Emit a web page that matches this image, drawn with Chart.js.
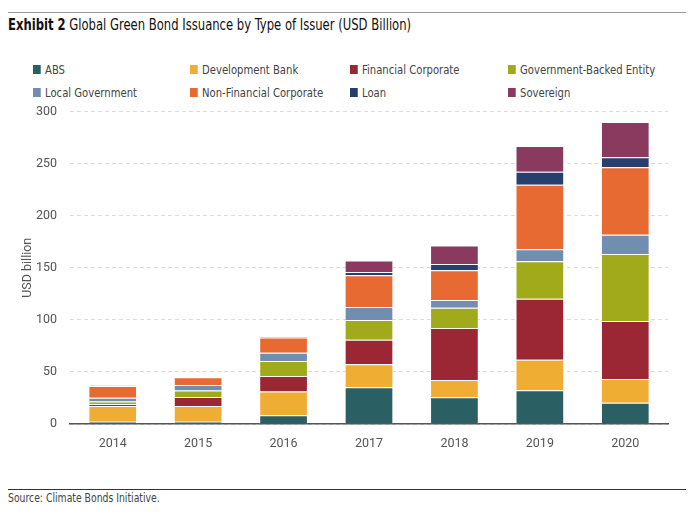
<!DOCTYPE html>
<html lang="en">
<head>
<meta charset="utf-8">
<title>Global Green Bond Issuance by Type of Issuer</title>
<script src="https://cdn.jsdelivr.net/npm/chart.js@4.4.1/dist/chart.umd.min.js"></script>
<style>
  body { margin: 0; background: #fff; font-family: "DejaVu Sans", sans-serif; font-stretch: condensed; }
  #page { position: relative; width: 694px; height: 515px; }
  .rule { position: absolute; left: 8px; width: 678px; height: 0; }
  #topRule { top: 12px; border-top: 1px solid #9a9a9a; }
  #bottomRule { top: 489px; border-top: 1px solid #333; }
  .narrow { transform: scaleX(0.86); transform-origin: left center; white-space: nowrap; }
  #title { position: absolute; left: 8px; top: 16px; font-size: 15px; color: #111; }
  #legend { position: absolute; left: 0; top: 61px; width: 694px; }
  .item { position: absolute; font-size: 13px; color: #444; line-height: 18px; }
  .item span { display: inline-block; width: 9px; height: 9px; margin-right: 5px; vertical-align: 0px; }
  #wrap { position: absolute; left: 0; top: 91px; width: 694px; height: 372px; }
  #source { position: absolute; left: 8px; top: 491px; font-size: 12px; color: #444; }
</style>
</head>
<body>
<div id="page">
  <div class="rule" id="topRule"></div>
  <div id="title" class="narrow"><b>Exhibit 2</b> Global Green Bond Issuance by Type of Issuer (USD Billion)</div>
  <div id="legend"></div>
  <div id="wrap"><canvas id="chart"></canvas></div>
  <div class="rule" id="bottomRule"></div>
  <div id="source" class="narrow">Source: Climate Bonds Initiative.</div>
</div>
<script>
// years on the x axis
const years = ['2014', '2015', '2016', '2017', '2018', '2019', '2020'];

// issuance per issuer type, USD billion
const abs            = [2.2, 2.2, 8.3, 35.3, 25.7, 32.4, 20.5];
const devBank        = [15.1, 15.1, 22.8, 22.1, 16.6, 29.2, 22.8];
const finCorporate   = [1.9, 8.7, 15.1, 23.4, 49.8, 58.7, 55.5];
const govBacked      = [2.3, 6.1, 14.4, 19.0, 19.5, 35.9, 64.5];
const localGov       = [3.8, 5.4, 7.7, 12.5, 7.4, 11.6, 18.3];
const nonFinCorp     = [11.3, 7.4, 14.8, 30.5, 28.6, 61.9, 64.8];
const loan           = [0, 0, 0, 3.2, 6.1, 12.5, 9.6];
const sovereign      = [0.3, 0, 1.0, 10.9, 17.6, 24.7, 34.0];

const yTicks = [0, 50, 100, 150, 200, 250, 300];

const series = [
  { label: 'ABS', data: abs, color: '#2a5f63' },
  { label: 'Development Bank', data: devBank, color: '#f0ad33' },
  { label: 'Financial Corporate', data: finCorporate, color: '#9b2734' },
  { label: 'Government-Backed Entity', data: govBacked, color: '#a0aa1a' },
  { label: 'Local Government', data: localGov, color: '#718eb0' },
  { label: 'Non-Financial Corporate', data: nonFinCorp, color: '#e86a33' },
  { label: 'Loan', data: loan, color: '#283f6e' },
  { label: 'Sovereign', data: sovereign, color: '#8a3a5e' }
];

// legend laid out in 4 columns like the exhibit
const legendCols = [33, 190, 350, 508];
const legendRows = [0, 23];
const legend = document.getElementById('legend');
series.forEach((s, i) => {
  const el = document.createElement('div');
  el.className = 'item narrow';
  el.style.left = legendCols[i % 4] + 'px';
  el.style.top = legendRows[Math.floor(i / 4)] + 'px';
  el.innerHTML = '<span style="background:' + s.color + '"></span>' + s.label;
  legend.appendChild(el);
});

const font = 'Roboto, "DejaVu Sans", sans-serif';

new Chart(document.getElementById('chart'), {
  type: 'bar',
  data: {
    labels: years,
    datasets: series.map(s => ({
      label: s.label,
      data: s.data,
      backgroundColor: s.color,
      borderColor: 'rgba(255,255,255,0.45)',
      borderWidth: 1,
      barPercentage: 0.57,
      categoryPercentage: 1
    }))
  },
  options: {
    responsive: true,
    maintainAspectRatio: false,
    animation: false,
    layout: { padding: { top: 5, right: 26, bottom: 0, left: 0 } },
    plugins: { legend: { display: false }, tooltip: { enabled: false } },
    scales: {
      x: {
        stacked: true,
        grid: { display: false, drawTicks: false },
        border: { display: true, color: '#555', width: 1.5 },
        ticks: { color: '#555', font: { family: font, size: 12.5 }, padding: 12 }
      },
      y: {
        stacked: true,
        min: 0,
        max: 300,
        afterBuildTicks: axis => { axis.ticks = yTicks.map(v => ({ value: v })); },
        afterFit: axis => { axis.width = 70; },
        grid: { color: '#dcdcdc', drawTicks: false, tickLength: 0 },
        border: { display: false, dash: [4, 3] },
        title: { display: true, text: 'USD billion', color: '#555', font: { family: font, size: 12.5 }, padding: { top: 20, bottom: 0 } },
        ticks: { color: '#555', font: { family: font, size: 12.5 }, padding: 13 }
      }
    }
  }
});
</script>
</body>
</html>
